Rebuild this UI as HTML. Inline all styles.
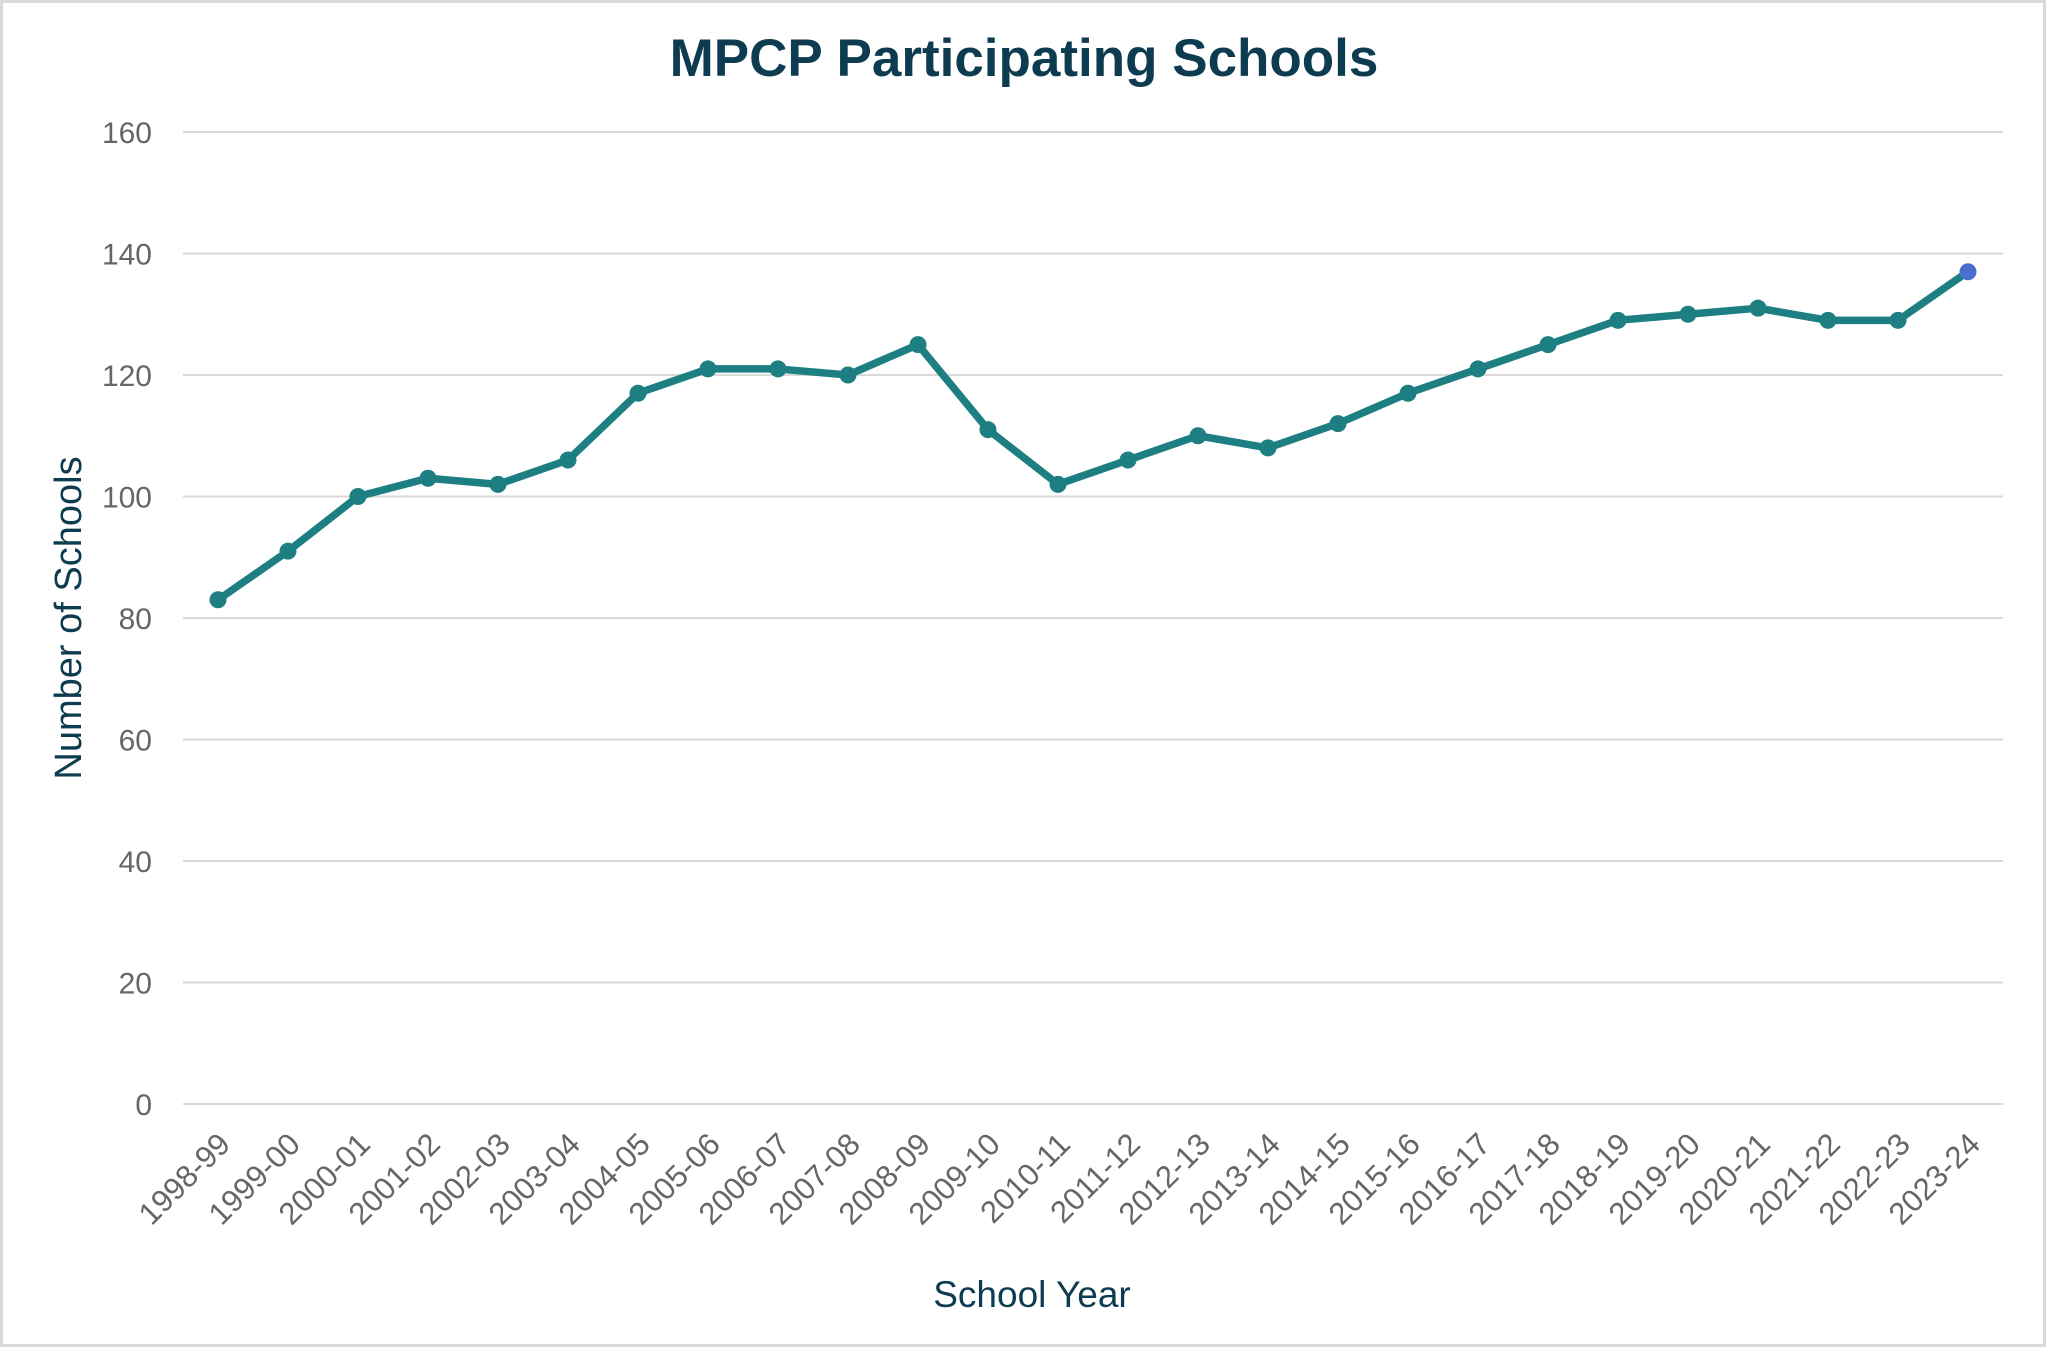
<!DOCTYPE html>
<html><head><meta charset="utf-8"><style>
body{margin:0;background:#fff;}
svg{display:block;font-family:"Liberation Sans",sans-serif;}
</style></head><body>
<svg id="chart" width="2048" height="1349">
<rect x="1.5" y="1.5" width="2043" height="1344" fill="#fff" stroke="#d9d9d9" stroke-width="3"/>
<text x="1024" y="76" text-anchor="middle" font-size="53" font-weight="bold" fill="#0d3b4f">MPCP Participating Schools</text>
<g id="grid"></g><g id="yt"></g><g id="xt"></g><g id="series"></g>
<text transform="translate(81,618) rotate(-90)" text-anchor="middle" font-size="38" fill="#0d3b4f">Number of Schools</text>
<text x="1032" y="1307" text-anchor="middle" font-size="37" fill="#0d3b4f">School Year</text>
</svg>
<script>
const categories=["1998-99","1999-00","2000-01","2001-02","2002-03","2003-04","2004-05","2005-06","2006-07","2007-08","2008-09","2009-10","2010-11","2011-12","2012-13","2013-14","2014-15","2015-16","2016-17","2017-18","2018-19","2019-20","2020-21","2021-22","2022-23","2023-24"];
const schools=[83,91,100,103,102,106,117,121,121,120,125,111,102,106,110,108,112,117,121,125,129,130,131,129,129,137];
const yTicks=[0,20,40,60,80,100,120,140,160];
const NS="http://www.w3.org/2000/svg";
const L=183,R=2003,T=132,B=1104;
const band=(R-L)/categories.length;
const x=i=>L+band*(i+0.5);
const y=v=>B-(v/160)*(B-T);
function mk(tag,attrs,parent,txt){const e=document.createElementNS(NS,tag);for(const k in attrs)e.setAttribute(k,attrs[k]);if(txt!==undefined)e.textContent=txt;document.getElementById(parent).appendChild(e);return e;}
yTicks.forEach(t=>{
 const g=mk('line',{x1:L,x2:R,y1:y(t),y2:y(t),stroke:'#d9d9d9','stroke-width':2},'grid');
 
 
 const l=mk('text',{x:152,y:y(t)+11,'text-anchor':'end','font-size':30,fill:'#666'},'yt',String(t));
 
 
});
categories.forEach((c,i)=>{
 const tx=x(i)+14,ty=1146;
 const l=mk('text',{x:tx,y:ty,'text-anchor':'end','font-size':31,fill:'#666',transform:`rotate(-45 ${tx} ${ty})`},'xt',c);
 
 
});
const p=mk('polyline',{points:schools.map((v,i)=>x(i)+','+y(v)).join(' '),fill:'none',stroke:'#1e7f83','stroke-width':7.5,'stroke-linejoin':'round'},'series');


schools.forEach((v,i)=>{
 const c=mk('circle',{cx:x(i),cy:y(v),r:8.5,fill:i===schools.length-1?'#4a6fcf':'#1e7f83'},'series');
 
 
});
</script>
</body></html>
